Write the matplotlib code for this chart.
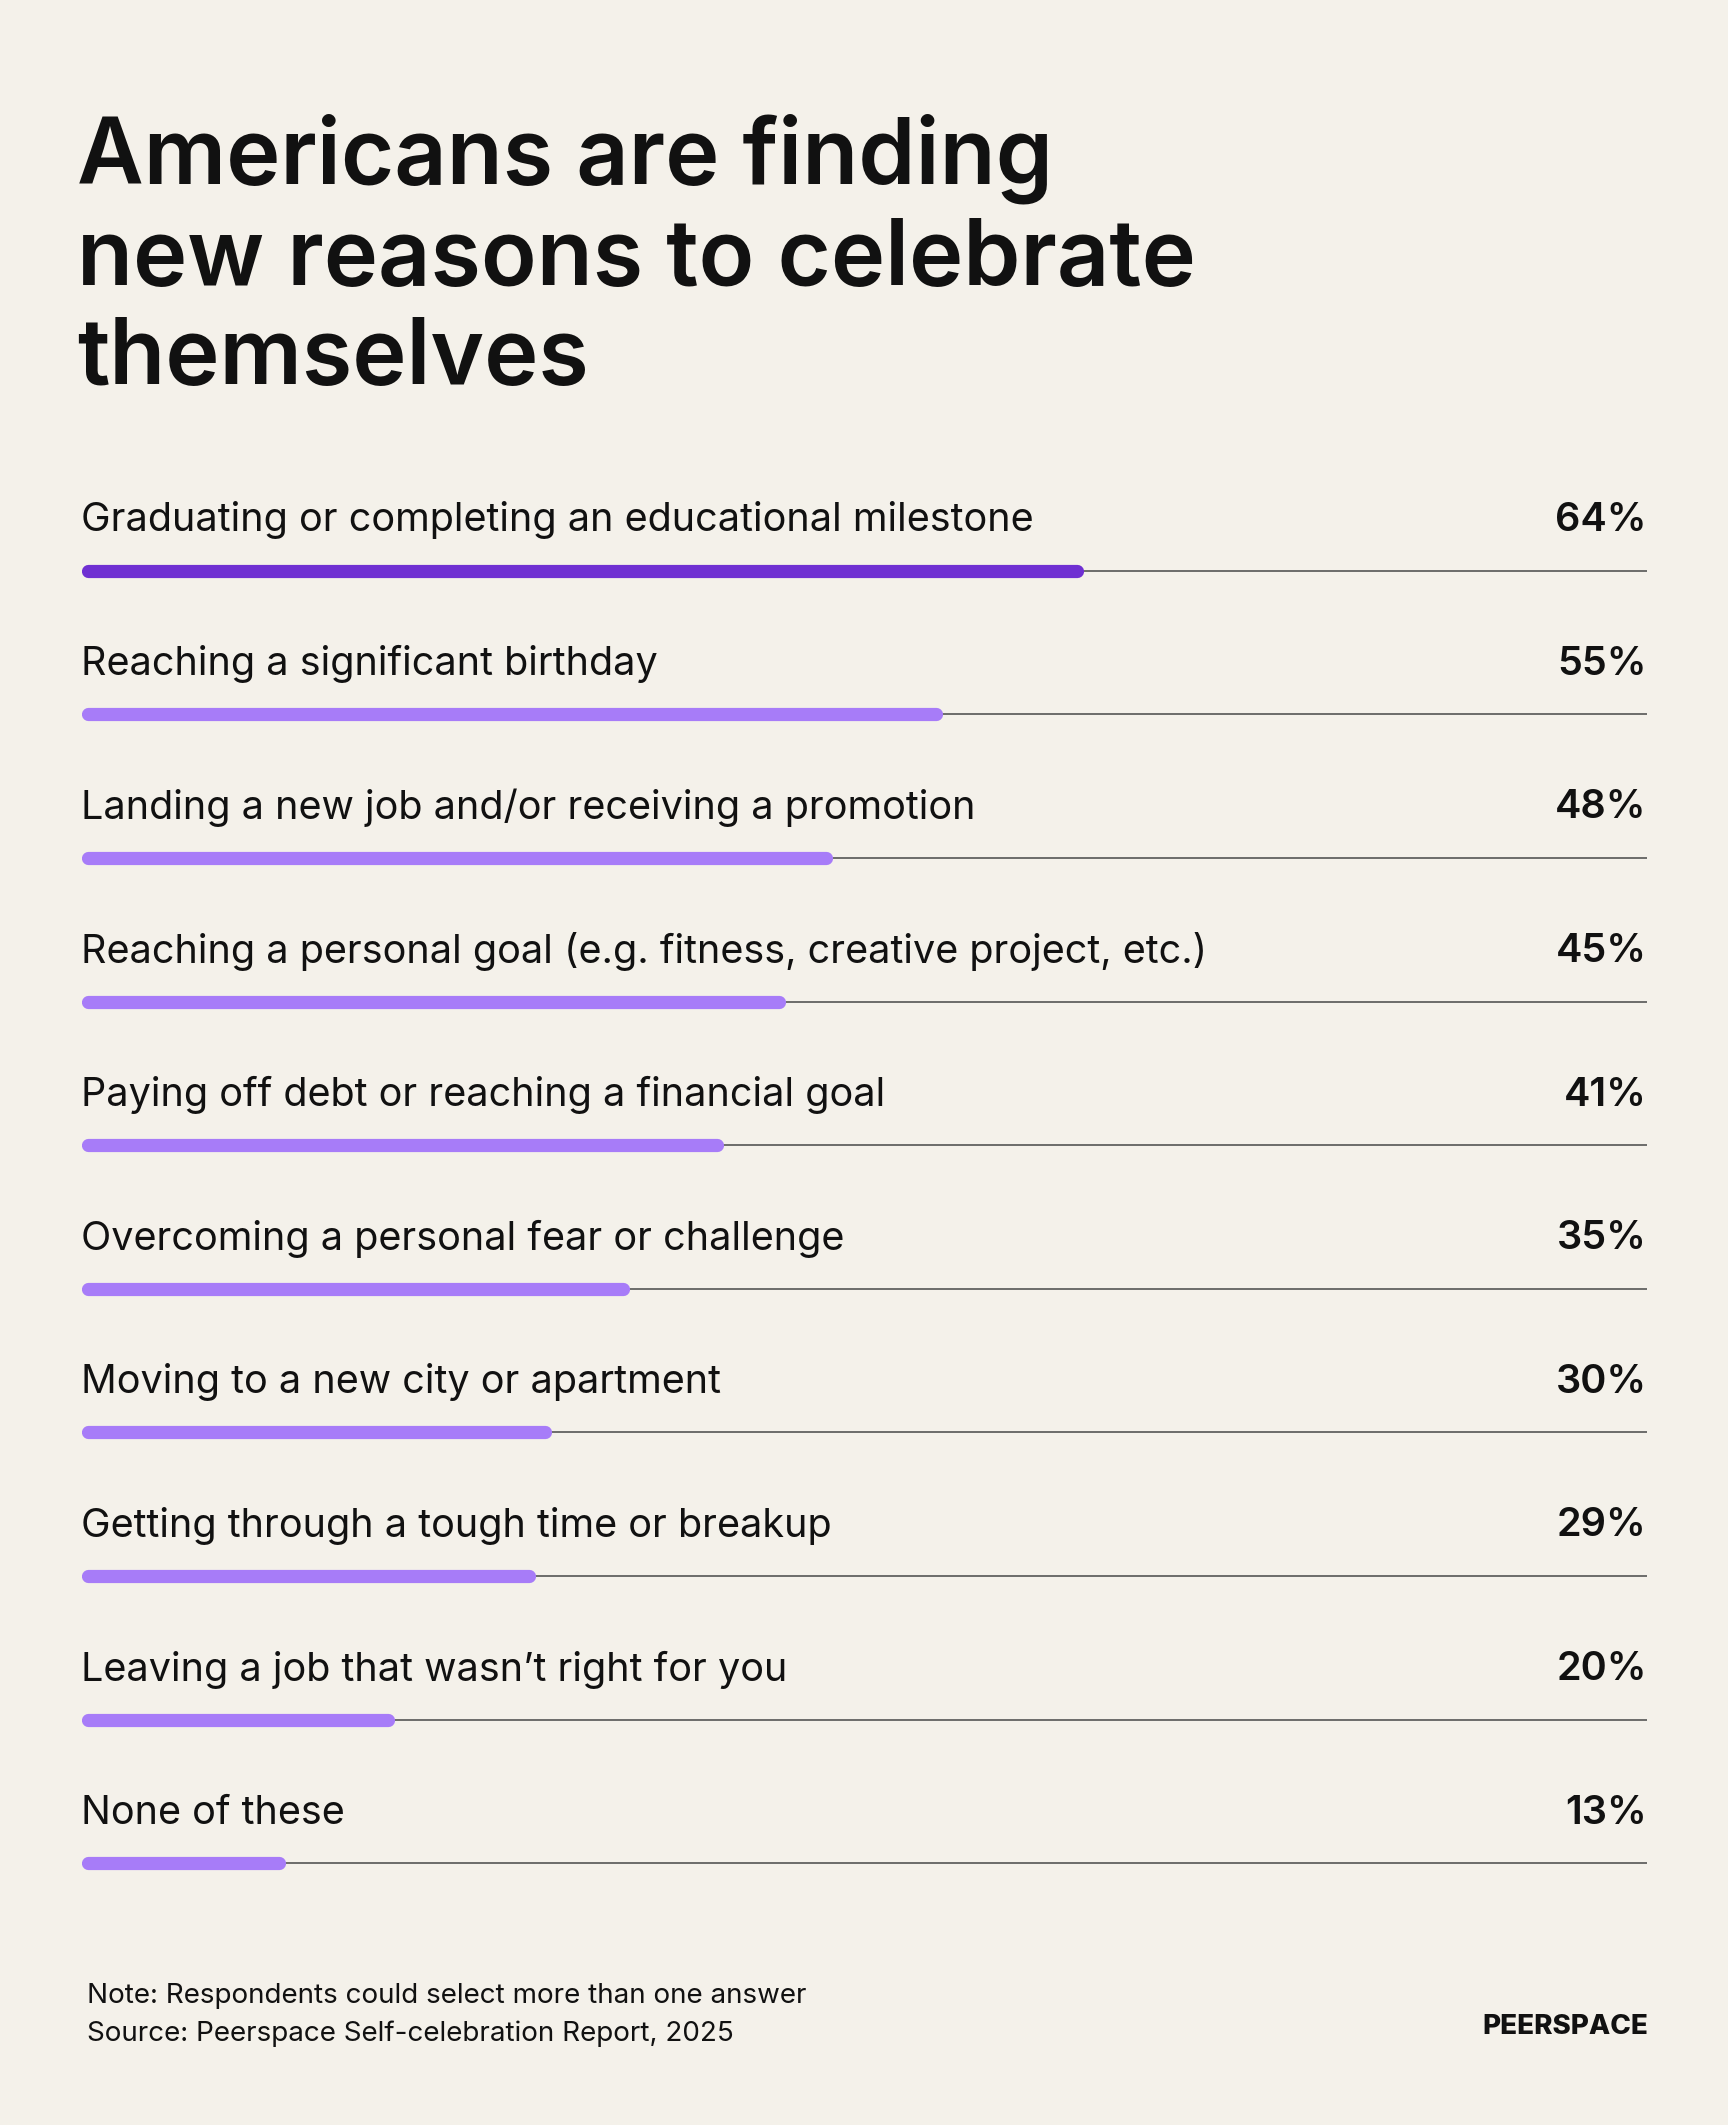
import matplotlib
matplotlib.use("Agg")
import matplotlib.pyplot as plt

categories = [
    "Graduating or completing an educational milestone",
    "Reaching a significant birthday",
    "Landing a new job and/or receiving a promotion",
    "Reaching a personal goal (e.g. fitness, creative project, etc.)",
    "Paying off debt or reaching a financial goal",
    "Overcoming a personal fear or challenge",
    "Moving to a new city or apartment",
    "Getting through a tough time or breakup",
    "Leaving a job that wasn\u2019t right for you",
    "None of these",
]
values = [64, 55, 48, 45, 41, 35, 30, 29, 20, 13]

W, H = 1275, 1568  # reference layout units
bg = "#f4f1ea"
fig = plt.figure(figsize=(17.28, 21.25), dpi=100, facecolor=bg)
plt.rcParams['font.family'] = ['Inter', 'DejaVu Sans']

def fx(x): return x / W
def fy(y): return 1 - y / H

fig.text(fx(57), fy(84), "Americans are finding\nnew reasons to celebrate\nthemselves",
         fontsize=66, fontweight='semibold', va='top', ha='left', linespacing=1.2, color='#111111')

ax = fig.add_axes([fx(60), fy(1400), fx(1215) - fx(60), fy(340) - fy(1400)])
ax.set_xlim(0, 100)
ax.set_ylim(1400, 340)
ax.axis('off')
ax.patch.set_alpha(0)

for i, (c, v) in enumerate(zip(categories, values)):
    yb = 421 + 106 * i
    ax.plot([v, 100], [yb, yb], color='#555555', lw=1.2, solid_capstyle='butt', zorder=1)
    col = '#6f30d2' if i == 0 else '#a77cf8'
    ax.plot([0.4, v - 0.4], [yb, yb], color=col, lw=9.5, solid_capstyle='round', zorder=2)
    ax.text(0, yb - 37, c, fontsize=28.5, va='center', ha='left', color='#111111')
    ax.text(100, yb - 37, f"{v}%", fontsize=28.5, va='center', ha='right', color='#111111',
            fontweight='semibold')

fig.text(fx(64), fy(1473), "Note: Respondents could select more than one answer",
         fontsize=20, va='center', ha='left', color='#111111')
fig.text(fx(64), fy(1501), "Source: Peerspace Self-celebration Report, 2025",
         fontsize=20, va='center', ha='left', color='#111111')
fig.text(fx(1216), fy(1496), "PEERSPACE", fontsize=20, fontweight='heavy', va='center',
         ha='right', color='#111111')

fig.savefig("out.png", dpi=100, facecolor=bg)
